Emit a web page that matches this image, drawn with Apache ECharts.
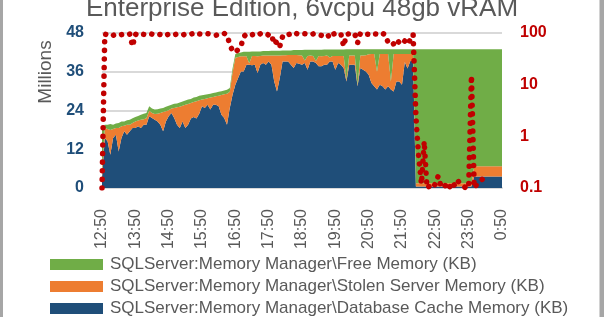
<!DOCTYPE html>
<html>
<head>
<meta charset="utf-8">
<script src="https://cdn.jsdelivr.net/npm/echarts@6/dist/echarts.min.js"></script>
<style>
html,body{margin:0;padding:0;background:#fff;}
#c{width:604px;height:317px;}
</style>
</head>
<body>
<div id="c"></div>
<script>
// time categories: 12:50 to 0:50, 5-minute steps
const startHour = 12, startMin = 50, stepMin = 5, nCats = 145;
const categories = [];
for (let k = 0; k < nCats; k++) {
  const t = startHour * 60 + startMin + k * stepMin;
  const h = Math.floor(t / 60) % 24, m = t % 60;
  categories.push(h + ':' + (m < 10 ? '0' + m : m));
}
const leftTicks = [0, 12, 24, 36, 48];
const rightTicks = [0.1, 1, 10, 100];

const dbCache = [
 3,15.5,14.5,10.3,15.5,16.5,11.3,15.5,17.6,16.5,
 17.6,18.6,18.6,19.1,18.6,19.6,19.6,22.2,21.7,21.1,
 20.6,19.6,17.6,20.6,22.2,23.2,21.7,19.6,18.6,20.6,
 18.6,19.6,21.5,22.0,21.5,23.0,25.3,24.8,25.8,24.3,
 25.8,25.8,25.3,22.7,21.7,19.6,24.8,28.9,32.0,34.1,
 36.1,36.1,38.2,38.2,38.0,38.2,35.6,38.2,38.7,38.2,
 39.2,38.2,33.0,29.9,34.1,39.2,39.2,39.2,38.2,37.2,
 38.7,38.5,38.2,38.7,36.6,39.2,39.2,38.7,37.7,37.7,
 38.2,38.2,39.2,39.2,36.6,38.7,38.2,37.2,33.0,38.2,
 38.2,38.2,31.5,37.2,36.6,36.1,35.1,32.5,31.5,30.5,
 32.0,31.5,30.5,31.5,30.5,29.9,33.0,33.0,32.0,39.0,
 37.0,39.3,39.5,0.5,0.5,0.5,0.5,0.5,0.5,0.5,
 0.5,0.5,0.5,0.5,0.5,0.5,0.5,0.5,0.5,0.5,
 0.5,0.5,0.5,0.5,3.6,3.6,3.6,3.6,3.6,3.6,
 3.6,3.6,3.6,3.6,3.6
];
const stolen = [
 2,3.1,3.8,7.7,2.8,2.1,7.3,3.6,1.7,3.1,
 2.0,1.5,2.0,1.8,2.5,1.7,2.0,1.7,1.5,1.8,
 2.4,3.6,5.9,3.2,1.9,1.4,3.1,5.4,6.6,4.9,
 7.2,6.4,4.8,4.6,5.4,4.2,2.1,2.8,2.0,3.7,
 2.4,2.6,3.3,6.1,7.3,9.6,5.0,6.9,8.3,6.5,
 4.7,4.7,2.6,0.4,2.9,2.7,5.2,2.7,2.3,2.8,
 1.8,2.8,8.0,11.1,6.9,1.9,1.9,2.0,3.0,4.0,
 2.5,2.6,2.8,0.8,4.3,1.8,1.7,0.6,3.2,3.1,
 2.7,2.8,1.2,1.7,4.3,2.2,2.7,3.7,0.5,2.8,
 2.8,2.8,0.4,3.8,4.4,5.0,6.3,9.0,10.0,5.5,
 9.5,10.0,11.0,10.0,2.5,11.6,8.5,8.5,9.5,2.5,
 4.5,2.2,2.0,1.0,1.0,1.0,1.0,1.0,1.0,1.0,
 1.0,1.0,1.0,1.0,1.0,1.0,1.0,1.0,1.0,1.0,
 1.0,1.0,1.0,1.0,3.1,3.1,3.1,3.1,3.1,3.1,
 3.1,3.1,3.1,3.1,3.1
];
const free = [
 13,1.0,1.3,1.8,1.3,1.4,1.5,1.5,1.3,1.4,
 1.5,1.5,1.4,1.4,1.6,1.7,1.6,1.4,1.4,1.4,
 1.4,1.4,1.3,1.4,1.4,1.2,1.3,1.2,1.3,1.3,
 1.3,1.4,1.3,1.4,1.3,1.4,1.3,1.3,1.2,1.2,
 1.2,1.2,1.2,1.2,1.2,1.2,1.2,1.2,1.2,1.2,
 1.2,1.4,1.4,3.6,1.4,1.4,1.5,1.4,1.4,1.4,
 1.4,1.5,1.5,1.5,1.5,1.5,1.5,1.4,1.4,1.5,
 1.5,1.6,1.7,3.3,1.9,1.8,1.9,3.5,1.9,2.0,
 2.0,1.9,2.5,2.0,2.0,2.0,2.0,2.0,9.5,2.0,
 2.0,2.0,11.1,2.0,2.0,1.9,1.6,1.5,1.5,7.0,
 1.5,1.5,1.5,1.5,10.0,1.5,1.5,1.5,1.5,1.5,
 1.5,1.5,1.5,41.5,41.5,41.5,41.5,41.5,41.5,41.5,
 41.5,41.5,41.5,41.5,41.5,41.5,41.5,41.5,41.5,41.5,
 41.5,41.5,41.5,41.5,36.3,36.3,36.3,36.3,36.3,36.3,
 36.3,36.3,36.3,36.3,36.3
];
const redPct = [
 0.1,95,92,97,90,95,98,93,96,91,
 95,55,95,90,97,94,92,98,95,91,
 96,93,97,90,95,98,92,96,94,90,
 97,93,95,98,91,96,94,92,97,95,
 93,90,96,94,98,92,60,45,42,48,
 55,85,95,98,92,96,90,97,94,98,
 91,95,60,70,55,85,97,93,96,90,
 98,94,92,97,95,91,96,98,93,90,
 95,97,80,94,98,92,96,55,93,97,
 90,95,64,98,92,96,94,90,97,95,
 91,98,93,65,58,62,75,65,60,70,
 60,75,95,2.5,0.4,0.12,0.8,0.1,0.11,0.1,
 0.12,0.17,0.11,0.1,0.12,0.1,0.13,0.11,0.14,0.12,
 0.11,0.1,0.1,15,0.1,0.12,0.13,0.15,0.13,0.14,
 null,null,null,null,null
];

const names = [
 'SQLServer:Memory Manager\\Database Cache Memory (KB)',
 'SQLServer:Memory Manager\\Stolen Server Memory (KB)',
 'SQLServer:Memory Manager\\Free Memory (KB)'
];
const colors = ['#1F4E79', '#ED7D31', '#70AD47'];
const FONT = 'Liberation Sans';

function areaSeries(name, data, color) {
  return {
    name: name, type: 'line', stack: 'mem', data: data,
    symbol: 'none', showSymbol: false,
    lineStyle: {width: 0, color: color},
    itemStyle: {color: color},
    areaStyle: {color: color, opacity: 1},
    z: 2
  };
}

const chart = echarts.init(document.getElementById('c'), null, {renderer: 'canvas'});
chart.setOption({
  animation: false,
  backgroundColor: '#ffffff',
  title: {
    text: 'Enterprise Edition, 6vcpu 48gb vRAM',
    left: 'center', top: -9,
    textStyle: {fontFamily: FONT, fontSize: 26, fontWeight: 'normal', color: '#595959'}
  },
  legend: {
    orient: 'vertical', left: 50, top: 256, height: 100, padding: 0,
    itemWidth: 53, itemHeight: 11, itemGap: 5,
    icon: 'rect',
    data: [names[2], names[1], names[0]],
    textStyle: {fontFamily: FONT, fontSize: 17, color: '#595959', padding: [0, 0, 0, 2]},
    selectedMode: false
  },
  grid: {left: 102, right: 102, top: 33, bottom: 129, containLabel: false},
  xAxis: {
    type: 'category', data: categories, boundaryGap: false,
    axisLine: {lineStyle: {color: '#D9D9D9', width: 2}},
    axisTick: {show: false},
    axisLabel: {
      interval: 11, rotate: 90, margin: 21,
      fontFamily: FONT, fontSize: 16, color: '#595959'
    },
    splitLine: {show: false}
  },
  yAxis: [
    {
      type: 'value', min: leftTicks[0], max: leftTicks[leftTicks.length - 1], interval: 12,
      axisLine: {show: false}, axisTick: {show: false},
      axisLabel: {fontFamily: FONT, fontSize: 16, fontWeight: 'bold', color: '#1F4E79', margin: 18},
      splitLine: {lineStyle: {color: '#D9D9D9', width: 2}}
    },
    {
      type: 'log', logBase: 10, min: rightTicks[0], max: rightTicks[rightTicks.length - 1],
      axisLine: {show: false}, axisTick: {show: false},
      axisLabel: {fontFamily: FONT, fontSize: 16, fontWeight: 'bold', color: '#C00000', margin: 18,
        formatter: function (v) { return String(+v.toPrecision(3)); }},
      splitLine: {show: false}
    }
  ],
  series: [
    areaSeries(names[0], dbCache, colors[0]),
    areaSeries(names[1], stolen, colors[1]),
    areaSeries(names[2], free, colors[2]),
    {
      name: 'pct', type: 'line', yAxisIndex: 1, data: redPct,
      symbol: 'none', showSymbol: false, connectNulls: false,
      lineStyle: {color: '#C00000', width: 5.5, type: [0.1, 8.5], cap: 'round', join: 'round'},
      z: 5
    }
  ],
  graphic: [
    {type: 'rect', shape: {x: 0, y: 0, width: 3, height: 317}, style: {fill: '#A6A6A6'}, z: 100},
    {type: 'rect', shape: {x: 599.5, y: 0, width: 5, height: 317}, style: {fill: '#A6A6A6'}, z: 100},
    {type: 'text', x: 46, y: 72, rotation: Math.PI / 2,
     style: {text: 'Millions', fontFamily: FONT, fontSize: 19, fill: '#595959', align: 'center', verticalAlign: 'middle'}}
  ]
});
</script>
</body>
</html>
